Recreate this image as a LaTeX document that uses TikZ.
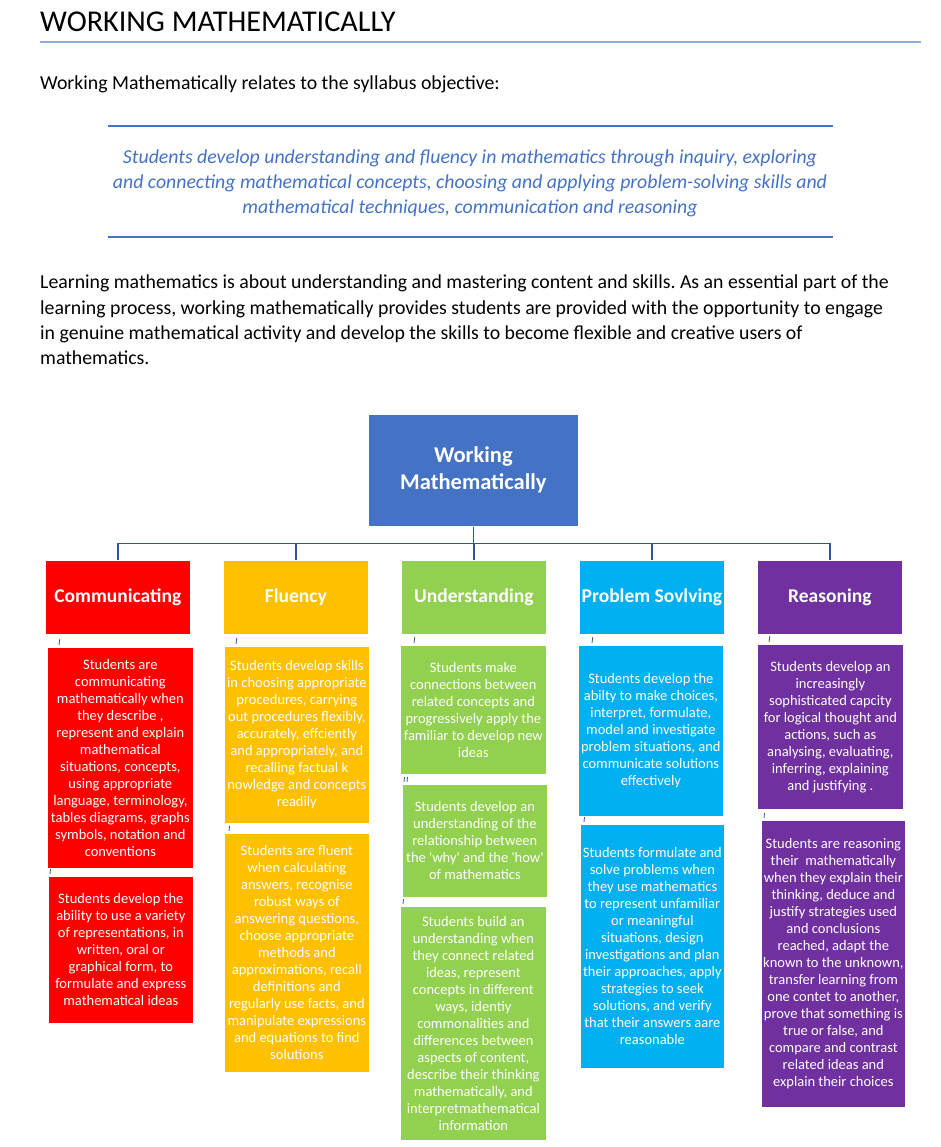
\documentclass[tikz,border=0pt]{standalone}
\usepackage{fontspec}
\setmainfont{Carlito}
\frenchspacing
\definecolor{wmblue}{HTML}{4472C4}
\definecolor{rulegray}{HTML}{8FAADC}
\definecolor{connblue}{HTML}{2F5597}
\definecolor{comred}{HTML}{FF0000}
\definecolor{fluyellow}{HTML}{FFC000}
\definecolor{undgreen}{HTML}{92D050}
\definecolor{pscyan}{HTML}{00B0F0}
\definecolor{reapurple}{HTML}{7030A0}
\tikzset{
  head/.style={fill=#1, draw=white, line width=0.7, anchor=north west, minimum width=145, minimum height=74,
    inner sep=0, text=white, font=\fontsize{19.5}{23}\selectfont\bfseries},
  card/.style={fill=#1, draw=white, line width=0.7, anchor=north west, inner sep=0, text=white, align=center,
    font=\fontsize{14.5}{17}\selectfont},
  conn/.style={draw=connblue, line width=1.3},
  tick/.style={draw=connblue, line width=0.8},
  body/.style={anchor=base west, inner sep=0, font=\fontsize{19.8}{25}\selectfont},
  quote/.style={anchor=base, inner sep=0, text=wmblue, font=\fontsize{19.8}{25}\selectfont\itshape}
}
\begin{document}
\begin{tikzpicture}[x=1pt,y=-1pt]
\useasboundingbox (0,0) rectangle (941,1147);

\node[anchor=base west, inner sep=0, font=\fontsize{30.2}{36}\selectfont] (title) at (40,32) {WORKING MATHEMATICALLY};
\draw[rulegray, line width=1.2] (40,42) -- (921,42);
\node[body] (intro) at (40,90) {Working Mathematically relates to the syllabus objective:};

\draw[wmblue, line width=1.5] (108,126) -- (833,126);
\draw[wmblue, line width=1.5] (108,237) -- (833,237);
\foreach \ln [count=\i] in {{Students develop understanding and fluency in mathematics through inquiry, exploring},
  {and connecting mathematical concepts, choosing and applying problem-solving skills and},
  {mathematical techniques, communication and reasoning}}
  {\node[quote] (quote\i) at (470,{139+25*\i}) {\ln};}

\foreach \ln [count=\i] in {{Learning mathematics is about understanding and mastering content and skills. As an essential part of the},
  {learning process, working mathematically provides students are provided with the opportunity to engage},
  {in genuine mathematical activity and develop the skills to become flexible and creative users of},
  {mathematics.}}
  {\node[body] (para\i) at (40,{264+25*\i}) {\ln};}

% tree
\node[head=wmblue, minimum width=210, minimum height=112, align=center,
  font=\fontsize{22.5}{27}\selectfont\bfseries] (root) at (368,414) {Working\\Mathematically};
\node[head=comred] (comm) at (45,560) {Communicating};
\node[head=fluyellow] (flu) at (223,560) {Fluency};
\node[head=undgreen] (und) at (401,560) {Understanding};
\node[head=pscyan] (ps) at (579,560) {Problem Sovlving};
\node[head=reapurple] (rea) at (757,560) {Reasoning};
\foreach \h in {comm,flu,und,ps,rea} {\draw[conn] (root.south) -- ++(0,17) -| (\h.north);}

\node[card=comred, minimum width=146, minimum height=221] (c1) at (47,647) {Students are\\communicating\\mathematically when\\they describe ,\\represent and explain\\mathematical\\situations, concepts,\\using appropriate\\language, terminology,\\tables diagrams, graphs\\symbols, notation and\\conventions};
\node[card=comred, minimum width=145, minimum height=147] (c2) at (48,876) {Students develop the\\ability to use a variety\\of representations, in\\written, oral or\\graphical form, to\\formulate and express\\mathematical ideas};

\node[card=fluyellow, minimum width=145, minimum height=177] (f1) at (224,646) {Students develop skills\\in choosing appropriate\\procedures, carrying\\out procedures flexibly,\\accurately, effciently\\and appropriately, and\\recalling factual k\\nowledge and concepts\\readily};
\node[card=fluyellow, minimum width=145, minimum height=239] (f2) at (224,833) {Students are fluent\\when calculating\\answers, recognise\\robust ways of\\answering questions,\\choose appropriate\\methods and\\approximations, recall\\definitions and\\regularly use facts, and\\manipulate expressions\\and equations to find\\solutions};

\node[card=undgreen, minimum width=146, minimum height=129] (u1) at (400,645) {Students make\\connections between\\related concepts and\\progressively apply the\\familiar to develop new\\ideas};
\node[card=undgreen, minimum width=145, minimum height=113] (u2) at (402,784) {Students develop an\\understanding of the\\relationship between\\the \textquotesingle why\textquotesingle\ and the \textquotesingle how\textquotesingle\\of mathematics};
\node[card=undgreen, minimum width=146, minimum height=234] (u3) at (400,906) {Students build an\\understanding when\\they connect related\\ideas, represent\\concepts in different\\ways, identiy\\commonalities and\\differences between\\aspects of content,\\describe their thinking\\mathematically, and\\interpretmathematical\\information};

\node[card=pscyan, minimum width=145, minimum height=171] (p1) at (578,645) {Students develop the\\abilty to make choices,\\interpret, formulate,\\model and investigate\\problem situations, and\\communicate solutions\\effectively};
\node[card=pscyan, minimum width=144, minimum height=244] (p2) at (580,824) {Students formulate and\\solve problems when\\they use mathematics\\to represent unfamiliar\\or meaningful\\situations, design\\investigations and plan\\their approaches, apply\\strategies to seek\\solutions, and verify\\that their answers aare\\reasonable};

\node[card=reapurple, minimum width=146, minimum height=165] (r1) at (757,644) {Students develop an\\increasingly\\sophisticated capcity\\for logical thought and\\actions, such as\\analysing, evaluating,\\inferring, explaining\\and justifying .};
\node[card=reapurple, minimum width=144, minimum height=287] (r2) at (761,820) {Students are reasoning\\their\ \ mathematically\\when they explain their\\thinking, deduce and\\justify strategies used\\and conclusions\\reached, adapt the\\known to the unknown,\\transfer learning from\\one contet to another,\\prove that something is\\true or false, and\\compare and contrast\\related ideas and\\explain their choices};

\foreach \b/\dx in {c1/12,f1/12,u1/14,p1/14,r1/12} {\draw[tick] (\b.north west) ++(\dx,-2) -- ++(0.8,-6);}
\foreach \b/\dx in {c2/2,f2/5,u2/2,u2/5,u3/3,p2/4,r2/3} {\draw[tick] (\b.north west) ++(\dx,-2) -- ++(0.5,-5);}
\end{tikzpicture}
\end{document}
